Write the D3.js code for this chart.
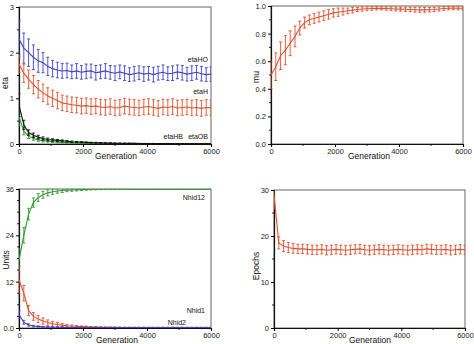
<!DOCTYPE html>
<html>
<head>
<meta charset="utf-8">
<script src="https://cdn.jsdelivr.net/npm/d3@7"></script>
<style>
  body { margin: 0; background: #fff; }
  svg { display: block; font-family: "Liberation Sans", Arial, sans-serif; }
</style>
</head>
<body>
<div id="chart"></div>
<script>
// generations sampled every 150
const generations = d3.range(0, 6001, 150);

const xTicks = [0, 2000, 4000, 6000];
const xMinor = [1000, 3000, 5000];

// eta panel
const etaHO = [2.30, 2.10, 2.00, 1.90, 1.82, 1.78, 1.70, 1.65, 1.62, 1.60, 1.61, 1.58, 1.60, 1.57, 1.59, 1.60, 1.56, 1.58, 1.60, 1.57, 1.55, 1.58, 1.55, 1.52, 1.54, 1.56, 1.53, 1.55, 1.52, 1.55, 1.57, 1.54, 1.55, 1.58, 1.56, 1.53, 1.55, 1.57, 1.54, 1.52, 1.53];
const etaHOErr = [0.40, 0.33, 0.30, 0.27, 0.25, 0.22, 0.20, 0.18, 0.17, 0.16, 0.16, 0.15, 0.16, 0.15, 0.16, 0.15, 0.16, 0.15, 0.16, 0.15, 0.16, 0.15, 0.16, 0.15, 0.16, 0.15, 0.16, 0.15, 0.16, 0.15, 0.16, 0.15, 0.16, 0.15, 0.16, 0.15, 0.16, 0.15, 0.16, 0.15, 0.16];
const etaH = [1.75, 1.55, 1.42, 1.30, 1.20, 1.12, 1.05, 1.00, 0.95, 0.90, 0.88, 0.86, 0.85, 0.83, 0.84, 0.82, 0.83, 0.81, 0.80, 0.82, 0.79, 0.80, 0.83, 0.81, 0.80, 0.79, 0.81, 0.82, 0.80, 0.78, 0.81, 0.80, 0.82, 0.79, 0.80, 0.81, 0.79, 0.80, 0.78, 0.80, 0.79];
const etaHErr = [0.18, 0.20, 0.20, 0.20, 0.19, 0.19, 0.18, 0.18, 0.18, 0.17, 0.17, 0.17, 0.17, 0.17, 0.17, 0.17, 0.17, 0.17, 0.17, 0.17, 0.17, 0.17, 0.17, 0.17, 0.17, 0.17, 0.17, 0.17, 0.17, 0.17, 0.17, 0.17, 0.17, 0.17, 0.17, 0.17, 0.17, 0.17, 0.17, 0.17, 0.17];
const etaHB = [0.85, 0.42, 0.25, 0.19, 0.15, 0.12, 0.10, 0.09, 0.08, 0.07, 0.06, 0.05, 0.045, 0.04, 0.035, 0.03, 0.028, 0.025, 0.022, 0.02, 0.018, 0.016, 0.015, 0.014, 0.013, 0.012, 0.011, 0.010, 0.010, 0.009, 0.009, 0.008, 0.008, 0.007, 0.007, 0.006, 0.006, 0.006, 0.005, 0.005, 0.005];
const etaHBErr = [0.25, 0.10, 0.06, 0.05, 0.04, 0.035, 0.03, 0.025, 0.02, 0.02, 0.018, 0.015, 0.012, 0.01, 0.01, 0.008, 0.008, 0.007, 0.006, 0.005, 0.005, 0.004, 0.004, 0.004, 0.003, 0.003, 0.003, 0.003, 0.003, 0.002, 0.002, 0.002, 0.002, 0.002, 0.002, 0.002, 0.002, 0.002, 0.002, 0.002, 0.002];
const etaOB = [0.60, 0.28, 0.17, 0.12, 0.09, 0.07, 0.06, 0.05, 0.04, 0.035, 0.03, 0.025, 0.02, 0.018, 0.016, 0.014, 0.012, 0.011, 0.010, 0.009, 0.008, 0.007, 0.007, 0.006, 0.006, 0.005, 0.005, 0.005, 0.004, 0.004, 0.004, 0.004, 0.003, 0.003, 0.003, 0.003, 0.003, 0.003, 0.003, 0.003, 0.003];
const etaOBErr = [0.20, 0.08, 0.05, 0.04, 0.03, 0.025, 0.02, 0.018, 0.015, 0.012, 0.01, 0.008, 0.007, 0.006, 0.005, 0.005, 0.004, 0.004, 0.003, 0.003, 0.003, 0.003, 0.002, 0.002, 0.002, 0.002, 0.002, 0.002, 0.002, 0.002, 0.002, 0.002, 0.002, 0.002, 0.002, 0.002, 0.002, 0.002, 0.002, 0.002, 0.002];

// mu panel
const mu = [0.50, 0.56, 0.64, 0.68, 0.73, 0.78, 0.84, 0.88, 0.90, 0.91, 0.92, 0.93, 0.94, 0.95, 0.955, 0.96, 0.965, 0.97, 0.975, 0.978, 0.98, 0.982, 0.984, 0.983, 0.982, 0.98, 0.978, 0.977, 0.976, 0.975, 0.973, 0.972, 0.972, 0.973, 0.975, 0.978, 0.982, 0.984, 0.985, 0.984, 0.984];
const muErr = [0.10, 0.10, 0.10, 0.105, 0.09, 0.075, 0.05, 0.04, 0.035, 0.035, 0.035, 0.035, 0.035, 0.03, 0.03, 0.025, 0.02, 0.02, 0.015, 0.015, 0.014, 0.013, 0.012, 0.012, 0.012, 0.013, 0.014, 0.014, 0.015, 0.016, 0.017, 0.018, 0.017, 0.016, 0.015, 0.014, 0.013, 0.012, 0.012, 0.012, 0.012];

// units panel
const nhid12 = [17.5, 24.0, 29.5, 32.5, 33.8, 34.5, 35.0, 35.3, 35.5, 35.6, 35.7, 35.75, 35.8, 35.85, 35.88, 35.9, 35.92, 35.93, 35.94, 35.95, 35.95, 35.96, 35.96, 35.96, 35.96, 35.97, 35.97, 35.97, 35.97, 35.97, 35.97, 35.97, 35.97, 35.97, 35.97, 35.97, 35.97, 35.97, 35.97, 35.97, 35.97];
const nhid12Err = [3.0, 2.0, 1.5, 1.2, 1.0, 0.9, 0.8, 0.7, 0.6, 0.5, 0.4, 0.35, 0.3, 0.25, 0.2, 0.15, 0.12, 0.1, 0.1, 0.1, 0.1, 0.1, 0.1, 0.1, 0.1, 0.1, 0.1, 0.1, 0.1, 0.1, 0.1, 0.1, 0.1, 0.1, 0.1, 0.1, 0.1, 0.1, 0.1, 0.1, 0.1];
const nhid1 = [12.5, 9.0, 4.5, 3.0, 2.3, 1.8, 1.4, 1.1, 0.9, 0.75, 0.6, 0.5, 0.4, 0.35, 0.3, 0.25, 0.22, 0.2, 0.18, 0.16, 0.15, 0.14, 0.13, 0.12, 0.12, 0.11, 0.11, 0.1, 0.1, 0.1, 0.1, 0.1, 0.1, 0.1, 0.1, 0.1, 0.1, 0.1, 0.1, 0.1, 0.1];
const nhid1Err = [3.5, 2.0, 1.3, 1.0, 0.9, 0.8, 0.7, 0.6, 0.5, 0.4, 0.35, 0.3, 0.25, 0.2, 0.2, 0.15, 0.15, 0.12, 0.1, 0.1, 0.1, 0.1, 0.1, 0.1, 0.1, 0.1, 0.1, 0.1, 0.1, 0.1, 0.1, 0.1, 0.1, 0.1, 0.1, 0.1, 0.1, 0.1, 0.1, 0.1, 0.1];
const nhid2 = [3.5, 1.5, 0.8, 0.5, 0.4, 0.3, 0.25, 0.2, 0.18, 0.16, 0.15, 0.14, 0.13, 0.12, 0.12, 0.11, 0.11, 0.1, 0.1, 0.1, 0.1, 0.1, 0.1, 0.1, 0.1, 0.1, 0.1, 0.1, 0.1, 0.1, 0.1, 0.1, 0.1, 0.1, 0.1, 0.1, 0.1, 0.1, 0.1, 0.1, 0.1];
const nhid2Err = [1.0, 0.5, 0.3, 0.2, 0.15, 0.12, 0.1, 0.1, 0.08, 0.08, 0.06, 0.06, 0.05, 0.05, 0.05, 0.05, 0.05, 0.05, 0.05, 0.05, 0.05, 0.05, 0.05, 0.05, 0.05, 0.05, 0.05, 0.05, 0.05, 0.05, 0.05, 0.05, 0.05, 0.05, 0.05, 0.05, 0.05, 0.05, 0.05, 0.05, 0.05];

// epochs panel
const epochs = [29.0, 18.5, 17.8, 17.5, 17.3, 17.2, 17.2, 17.1, 17.0, 17.0, 17.1, 16.9, 17.0, 17.1, 17.0, 16.9, 17.0, 17.1, 17.2, 17.0, 16.9, 17.0, 17.1, 17.0, 16.9, 17.0, 17.1, 17.0, 16.9, 17.0, 17.1, 17.0, 17.2, 17.1, 17.0, 17.0, 17.1, 16.9, 17.0, 17.1, 17.0];
const epochsErr = [3.0, 1.3, 1.2, 1.1, 1.05, 1.0, 1.0, 1.0, 1.0, 1.0, 1.0, 1.0, 1.0, 1.0, 1.0, 1.0, 1.0, 1.0, 1.0, 1.0, 1.0, 1.0, 1.0, 1.0, 1.0, 1.0, 1.0, 1.0, 1.0, 1.0, 1.0, 1.0, 1.0, 1.0, 1.0, 1.0, 1.0, 1.0, 1.0, 1.0, 1.0];

const BLUE = "#4040c8", RED = "#e0502c", GREEN = "#2e9a2e", BLACK = "#111";

const svg = d3.select("#chart").append("svg")
  .attr("width", 474)
  .attr("height", 344);

let clipCount = 0;

function drawPanel(p) {
  const x = d3.scaleLinear().domain([0, 6000]).range([p.left, p.right]);
  const y = d3.scaleLinear().domain(p.yDomain).range([p.bottom, p.top]);
  const g = svg.append("g");

  // frame
  g.append("rect")
    .attr("x", p.left).attr("y", p.top)
    .attr("width", p.right - p.left).attr("height", p.bottom - p.top)
    .attr("fill", "none").attr("stroke", "#666").attr("stroke-width", 1);

  const clipId = "clip" + (clipCount++);
  g.append("clipPath").attr("id", clipId).append("rect")
    .attr("x", p.left).attr("y", p.top)
    .attr("width", p.right - p.left).attr("height", p.bottom - p.top);

  // minor ticks
  g.selectAll(".xminor").data(xMinor).enter().append("line")
    .attr("x1", d => x(d)).attr("x2", d => x(d))
    .attr("y1", p.bottom).attr("y2", p.bottom + 2)
    .attr("stroke", "#222");
  g.selectAll(".yminor").data(p.yMinor).enter().append("line")
    .attr("x1", p.left - 2).attr("x2", p.left)
    .attr("y1", d => y(d)).attr("y2", d => y(d))
    .attr("stroke", "#222");

  const xAxis = g.append("g").attr("transform", `translate(0,${p.bottom})`)
    .call(d3.axisBottom(x).tickValues(xTicks).tickSize(3).tickPadding(2).tickFormat(d3.format("d")));
  const yAxis = g.append("g").attr("transform", `translate(${p.left},0)`)
    .call(d3.axisLeft(y).tickValues(p.yTicks).tickSize(3).tickPadding(2)
      .tickFormat((d, i) => p.yTickLabels[i]));
  [xAxis, yAxis].forEach(a => {
    a.select(".domain").attr("stroke", "#111").attr("stroke-width", 1.2);
    a.selectAll("text").attr("font-size", "7.5px").attr("fill", "#222").attr("font-family", "Liberation Sans, Arial, sans-serif");
  });

  const plot = g.append("g").attr("clip-path", `url(#${clipId})`);
  p.series.forEach(s => {
    const pts = generations.map((gen, i) => ({ gen, v: s.values[i], e: s.errs[i] }));
    const bars = plot.append("g").attr("stroke", s.color).attr("stroke-width", 0.9).attr("fill", "none");
    pts.forEach(d => {
      const cx = x(d.gen), y1 = y(d.v + d.e), y2 = y(d.v - d.e);
      bars.append("line").attr("x1", cx).attr("x2", cx).attr("y1", y1).attr("y2", y2);
      bars.append("line").attr("x1", cx - 1.5).attr("x2", cx + 1.5).attr("y1", y1).attr("y2", y1);
      bars.append("line").attr("x1", cx - 1.5).attr("x2", cx + 1.5).attr("y1", y2).attr("y2", y2);
    });
    plot.append("path").datum(pts)
      .attr("d", d3.line().x(d => x(d.gen)).y(d => y(d.v)))
      .attr("fill", "none").attr("stroke", s.color).attr("stroke-width", 1.1);
  });

  // series labels
  p.labels.forEach(l => {
    g.append("text").attr("x", l.x).attr("y", l.y)
      .attr("text-anchor", "end").attr("font-size", "7px").attr("fill", "#111")
      .text(l.text);
  });

  g.append("text").attr("x", p.xLabelX).attr("y", p.bottom + 15)
    .attr("text-anchor", "middle").attr("font-size", "8.5px").attr("fill", "#111")
    .text("Generation");
  g.append("text")
    .attr("transform", `translate(${p.yLabelX},${p.yLabelY}) rotate(-90)`)
    .attr("text-anchor", "middle").attr("font-size", "8.5px").attr("fill", "#111")
    .text(p.yLabel);
}

drawPanel({
  left: 19, right: 211, top: 7, bottom: 144,
  yDomain: [0, 3], yTicks: [0, 1, 2, 3], yTickLabels: ["0", "1", "2", "3"],
  yMinor: [0.5, 1.5, 2.5],
  yLabel: "eta", yLabelX: 8, yLabelY: 83, xLabelX: 116,
  series: [
    { values: etaHO, errs: etaHOErr, color: BLUE },
    { values: etaH, errs: etaHErr, color: RED },
    { values: etaOB, errs: etaOBErr, color: GREEN },
    { values: etaHB, errs: etaHBErr, color: BLACK }
  ],
  labels: [
    { text: "etaHO", x: 208, y: 62 },
    { text: "etaH", x: 208, y: 94 },
    { text: "etaHB", x: 183, y: 139 },
    { text: "etaOB", x: 208, y: 139 }
  ]
});

drawPanel({
  left: 271, right: 463, top: 6, bottom: 144,
  yDomain: [0, 1], yTicks: [0, 0.2, 0.4, 0.6, 0.8, 1.0],
  yTickLabels: ["0.0", "0.2", "0.4", "0.6", "0.8", "1.0"],
  yMinor: [0.1, 0.3, 0.5, 0.7, 0.9],
  yLabel: "mu", yLabelX: 259, yLabelY: 77, xLabelX: 369,
  series: [{ values: mu, errs: muErr, color: RED }],
  labels: []
});

drawPanel({
  left: 19, right: 211, top: 189, bottom: 328,
  yDomain: [0, 36], yTicks: [0, 12, 24, 36], yTickLabels: ["0.0", "12", "24", "36"],
  yMinor: [3, 6, 9, 15, 18, 21, 27, 30, 33],
  yLabel: "Units", yLabelX: 9, yLabelY: 260, xLabelX: 117,
  series: [
    { values: nhid12, errs: nhid12Err, color: GREEN },
    { values: nhid1, errs: nhid1Err, color: RED },
    { values: nhid2, errs: nhid2Err, color: BLUE }
  ],
  labels: [
    { text: "Nhid12", x: 205, y: 200 },
    { text: "Nhid1", x: 205, y: 313 },
    { text: "Nhid2", x: 186, y: 325 }
  ]
});

drawPanel({
  left: 274, right: 465, top: 190, bottom: 328,
  yDomain: [0, 30], yTicks: [0, 10, 20, 30], yTickLabels: ["0", "10", "20", "30"],
  yMinor: [5, 15, 25],
  yLabel: "Epochs", yLabelX: 259, yLabelY: 266, xLabelX: 370,
  series: [{ values: epochs, errs: epochsErr, color: RED }],
  labels: []
});
</script>
</body>
</html>
